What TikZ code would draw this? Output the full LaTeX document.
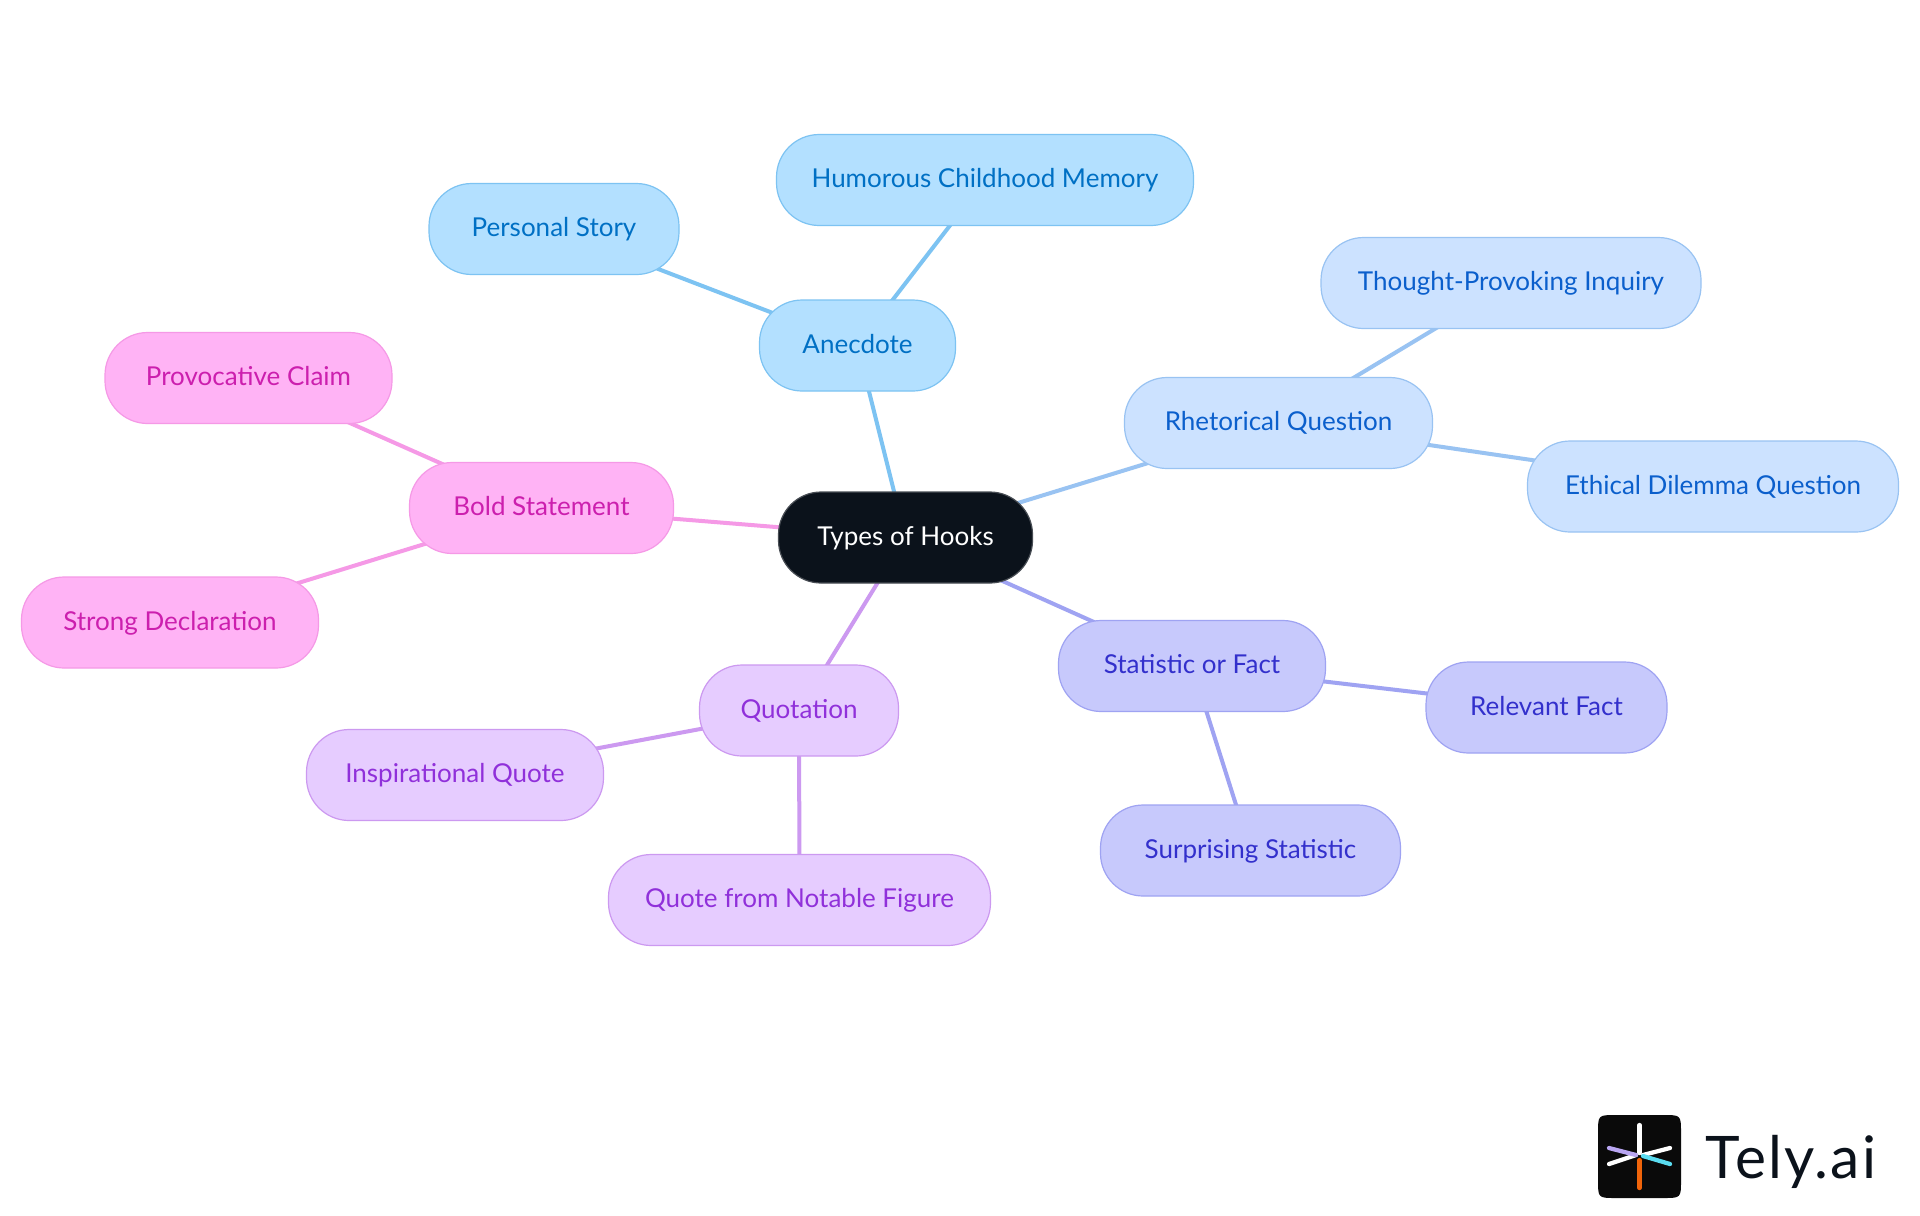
\documentclass[tikz,border=0pt]{standalone}
\usepackage{fontspec}
\setmainfont{Lato}
\newfontfamily\brandfont[LetterSpace=3.8]{Lato}
\usetikzlibrary{backgrounds}
\definecolor{cA}{HTML}{B3E0FF}\definecolor{sA}{HTML}{7DC3F2}\definecolor{tA}{HTML}{0070C4}
\definecolor{cR}{HTML}{CCE2FF}\definecolor{sR}{HTML}{99C3F2}\definecolor{tR}{HTML}{0B5FCC}
\definecolor{cS}{HTML}{C7C9FC}\definecolor{sS}{HTML}{9FA3F2}\definecolor{tS}{HTML}{3330CC}
\definecolor{cQ}{HTML}{E6CCFF}\definecolor{sQ}{HTML}{CC99F0}\definecolor{tQ}{HTML}{9030DA}
\definecolor{cB}{HTML}{FFB3F5}\definecolor{sB}{HTML}{F599E6}\definecolor{tB}{HTML}{CC1FAE}
\definecolor{dark}{HTML}{0B121B}
\definecolor{logoP}{HTML}{B9A6F2}\definecolor{logoC}{HTML}{5ADCF0}\definecolor{logoO}{HTML}{F0640A}
\tikzset{
  x=0.75pt,y=-0.75pt,
  hook/.style={rectangle,rounded corners=32pt,inner sep=0pt,line width=0.9pt,font=\fontsize{19.5pt}{23pt}\selectfont,text height=15pt,text depth=3.5pt,anchor=center},
  hookA/.style={hook,fill=cA,draw=sA,text=tA},
  hookR/.style={hook,fill=cR,draw=sR,text=tR},
  hookS/.style={hook,fill=cS,draw=sS,text=tS},
  hookQ/.style={hook,fill=cQ,draw=sQ,text=tQ},
  hookB/.style={hook,fill=cB,draw=sB,text=tB},
  hookC/.style={hook,fill=dark,draw=dark!75!white,text=white},
  linkline/.style={line width=3pt},
  spoke/.style={line width=3.2pt,line cap=round},
}
\newcommand{\hooknode}[6]{\node[#1,minimum width=#4*0.75pt,minimum height=#5*0.75pt] (#2) at (#3) {#6};}
\begin{document}
\begin{tikzpicture}
\useasboundingbox (0,0) rectangle (1920,1215);
\hooknode{hookC}{hub}{905.5,537.5}{254}{91}{Types of Hooks}
\hooknode{hookA}{anec}{857.5,345.5}{196}{91}{Anecdote}
\hooknode{hookA}{humor}{985,180}{417}{91}{Humorous Childhood Memory}
\hooknode{hookA}{pers}{554,229}{250}{91}{Personal Story}
\hooknode{hookR}{rhet}{1278.5,423}{308}{91}{Rhetorical Question}
\hooknode{hookR}{thou}{1511,283}{380}{91}{Thought-Provoking Inquiry}
\hooknode{hookR}{ethi}{1713,486.5}{371}{91}{Ethical Dilemma Question}
\hooknode{hookS}{stat}{1192,666}{267}{91}{Statistic or Fact}
\hooknode{hookS}{rele}{1546.5,707.5}{241}{91}{Relevant Fact}
\hooknode{hookS}{surp}{1250.5,850.5}{300}{91}{Surprising Statistic}
\hooknode{hookQ}{quot}{799,710.5}{199}{91}{Quotation}
\hooknode{hookQ}{insp}{455,775}{297}{91}{Inspirational Quote}
\hooknode{hookQ}{nota}{799.5,900}{382}{91}{Quote from Notable Figure}
\hooknode{hookB}{bold}{541.5,508}{264}{91}{Bold Statement}
\hooknode{hookB}{prov}{248.5,378}{287}{91}{Provocative Claim}
\hooknode{hookB}{stro}{170,622.5}{297}{91}{Strong Declaration}
\begin{scope}[on background layer]
\fill[white] (0,0) rectangle (1920,1215);
\draw[linkline,sA] (hub.center)--(anec.center);
\draw[linkline,sA] (anec.center)--(humor.center);
\draw[linkline,sA] (anec.center)--(pers.center);
\draw[linkline,sR] (hub.center)--(rhet.center);
\draw[linkline,sR] (rhet.center)--(thou.center);
\draw[linkline,sR] (rhet.center)--(ethi.center);
\draw[linkline,sS] (hub.center)--(stat.center);
\draw[linkline,sS] (stat.center)--(rele.center);
\draw[linkline,sS] (stat.center)--(surp.center);
\draw[linkline,sQ] (hub.center)--(quot.center);
\draw[linkline,sQ] (quot.center)--(insp.center);
\draw[linkline,sQ] (quot.center)--(nota.center);
\draw[linkline,sB] (hub.center)--(bold.center);
\draw[linkline,sB] (bold.center)--(prov.center);
\draw[linkline,sB] (bold.center)--(stro.center);
\end{scope}
% logo
\fill[black!96] (1598,1133) .. controls (1598,1115) and (1598,1115) .. (1616,1115) -- (1663,1115) .. controls (1681,1115) and (1681,1115) .. (1681,1133) -- (1681,1180) .. controls (1681,1198) and (1681,1198) .. (1663,1198) -- (1616,1198) .. controls (1598,1198) and (1598,1198) .. (1598,1180) -- cycle;
\draw[spoke,white] (1639.5,1125)--(1639.5,1153);
\draw[spoke,white] (1609,1164)--(1636,1155);
\draw[spoke,white] (1670,1148)--(1643,1155);
\draw[spoke,logoP] (1609,1148)--(1636,1155);
\draw[spoke,logoC] (1670,1164)--(1643,1156);
\draw[spoke,logoO] (1639.5,1160)--(1639.5,1188);
\node[anchor=base west,inner sep=0pt,text=dark,font=\brandfont\fontsize{44pt}{50pt}\selectfont] (brand) at (1705,1178) {Tely.ai};
\end{tikzpicture}
\end{document}
